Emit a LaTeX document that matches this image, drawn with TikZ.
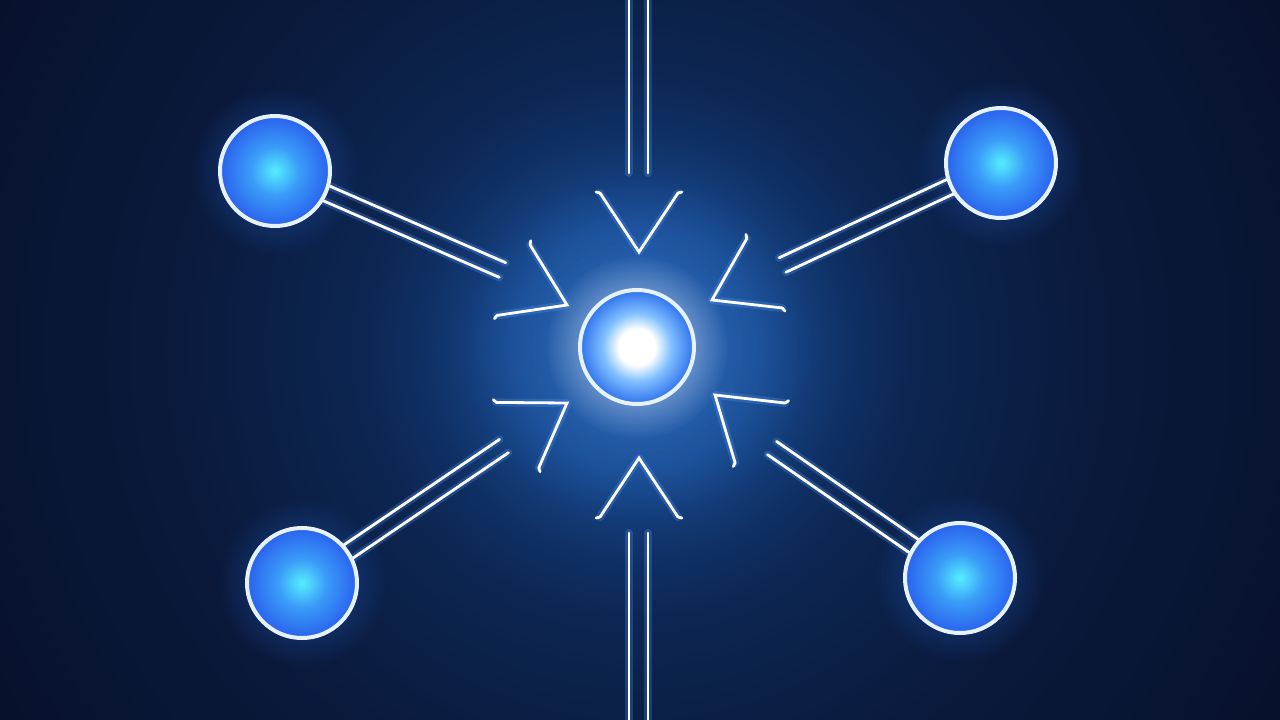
\documentclass[tikz,border=0pt]{standalone}
\usetikzlibrary{calc,fadings}
\definecolor{bgA}{HTML}{1F5CAA}
\definecolor{bgB}{HTML}{174A90}
\definecolor{bgC}{HTML}{0F3064}
\definecolor{bgD}{HTML}{0C2652}
\definecolor{bgE}{HTML}{0A1A3C}
\definecolor{bgF}{HTML}{07102A}
\definecolor{nodeIn}{HTML}{55EEFF}
\definecolor{nodeMid}{HTML}{3A9CF8}
\definecolor{nodeOut}{HTML}{2A62EE}
\definecolor{cenMid}{HTML}{80C0FF}
\definecolor{cenOut}{HTML}{2F72EE}
\definecolor{rim}{HTML}{E6F2FF}
\definecolor{halo}{HTML}{2E7BFF}
\definecolor{hubglow}{HTML}{4F90F0}
\definecolor{lineglow}{HTML}{5A9CFF}
\pgfdeclareradialshading{bgshade}{\pgfpoint{0bp}{0bp}}{color(0bp)=(bgA); color(4bp)=(bgB); color(7bp)=(bgC); color(9bp)=(bgD); color(15bp)=(bgE); color(25bp)=(bgF); color(50bp)=(bgF)}
\pgfdeclareradialshading{outershade}{\pgfpoint{0bp}{0bp}}{color(0bp)=(nodeIn); color(11bp)=(nodeMid); color(25bp)=(nodeOut); color(50bp)=(nodeOut)}
\pgfdeclareradialshading{centershade}{\pgfpoint{0bp}{0bp}}{color(0bp)=(white); color(8bp)=(white); color(15bp)=(cenMid); color(25bp)=(cenOut); color(50bp)=(cenOut)}
\tikzfading[name=halofade, inner color=transparent!0, outer color=transparent!100]
\pgfdeclarelayer{back}
\pgfdeclarelayer{mid}
\pgfsetlayers{back,mid,main}
\newcommand\railpair[3]{%
  \draw[railglow] ($(#1)!#3!90:(#2)$) -- ($(#2)!#3!-90:(#1)$);
  \draw[railglow] ($(#1)!#3!-90:(#2)$) -- ($(#2)!#3!90:(#1)$);
  \draw[rail] ($(#1)!#3!90:(#2)$) -- ($(#2)!#3!-90:(#1)$);
  \draw[rail] ($(#1)!#3!-90:(#2)$) -- ($(#2)!#3!90:(#1)$);
}
\begin{document}
\begin{tikzpicture}[x=1pt,y=-1pt,
  satnode/.style={circle, minimum size=110pt, inner sep=0pt, draw=rim, line width=4pt, shade, shading=outershade},
  hubnode/.style={circle, minimum size=114pt, inner sep=0pt, draw=rim, line width=4pt, shade, shading=centershade},
  rail/.style={white, line width=2.8pt, line cap=round},
  railglow/.style={lineglow, line width=8pt, line cap=round, opacity=0.25},
  chevline/.style={white, line width=2.8pt, line cap=round, line join=miter},
  chevglow/.style={lineglow, line width=8pt, line cap=round, line join=round, opacity=0.25},
  chev/.pic={
    \draw[chevglow] (-59,39) -- (0,0) -- (-59,-39);
    \draw[chevline] (-59,39) -- (0,0) -- (-59,-39);
    \draw[chevline] (-59,39) -- (-60,43);
    \draw[chevline] (-59,-39) -- (-60,-43);
  }]
\useasboundingbox (0,0) rectangle (1280,720);
% nodes
\node[hubnode] (hub) at (637,347) {};
\node[satnode] (tl) at (275,171) {};
\node[satnode] (tr) at (1001,163) {};
\node[satnode] (bl) at (302,583) {};
\node[satnode] (br) at (960,578) {};
% free ends of the connectors
\coordinate (tlEnd) at (502.5,270);
\coordinate (trEnd) at (782.5,265);
\coordinate (blEnd) at (504,446);
\coordinate (brEnd) at (772,448);
\coordinate (topSrc) at (638.5,-20);
\coordinate (topEnd) at (638.5,173);
\coordinate (botSrc) at (638.5,740);
\coordinate (botEnd) at (638.5,533);
\begin{pgfonlayer}{back}
  \fill[bgF] (0,0) rectangle (1280,720);
  \shade[shading=bgshade] (hub) circle (760);
  \fill[hubglow, path fading=halofade, opacity=0.4] (hub) circle (175);
  \fill[white, path fading=halofade, opacity=0.7] (hub) circle (92);
  \foreach \n in {tl,tr,bl,br}{
    \fill[halo, path fading=halofade, opacity=0.45] (\n) circle (85);
  }
\end{pgfonlayer}
\begin{pgfonlayer}{mid}
  \railpair{tl}{tlEnd}{8pt}
  \railpair{tr}{trEnd}{8pt}
  \railpair{bl}{blEnd}{8pt}
  \railpair{br}{brEnd}{8pt}
  \railpair{topSrc}{topEnd}{9.5pt}
  \railpair{botSrc}{botEnd}{9.5pt}
  \pic[rotate=-90] (chT) at (639,252) {chev};
  \pic[rotate=90] (chB) at (639,458) {chev};
  \pic[rotate=-25] (chTL) at (567,305) {chev};
  \pic[rotate=-153] (chTR) at (712,300) {chev};
  \pic[rotate=33] (chBL) at (567,403) {chev};
  \pic[rotate=-220] (chBR) at (715,395) {chev};
\end{pgfonlayer}
\end{tikzpicture}
\end{document}
